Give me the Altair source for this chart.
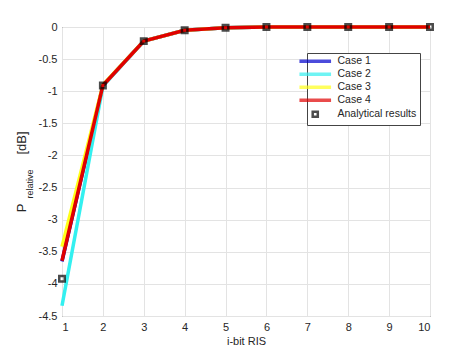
import altair as alt
import pandas as pd

bits = [1, 2, 3, 4, 5, 6, 7, 8, 9, 10]
case1 = [-3.65, -0.91, -0.22, -0.05, -0.01, 0, 0, 0, 0, 0]
case2 = [-4.34, -0.92, -0.22, -0.05, -0.01, 0, 0, 0, 0, 0]
case3 = [-3.42, -0.90, -0.22, -0.05, -0.01, 0, 0, 0, 0, 0]
case4 = [-3.64, -0.91, -0.22, -0.05, -0.01, 0, 0, 0, 0, 0]
analytical = [-3.92, -0.91, -0.22, -0.05, -0.01, 0, 0, 0, 0, 0]
y_ticks = [0, -0.5, -1, -1.5, -2, -2.5, -3, -3.5, -4, -4.5]

series_names = ["Case 1", "Case 2", "Case 3", "Case 4", "Analytical results"]
series_colors = ["#0000cc", "#33f0f0", "#ffff1a", "#e00000", "#000000"]

rows = []
for name, vals in zip(series_names[:4], [case1, case2, case3, case4]):
    for b, v in zip(bits, vals):
        rows.append({"bit": b, "p": v, "series": name})
lines_df = pd.DataFrame(rows)
ana_df = pd.DataFrame({"bit": bits, "p": analytical, "series": "Analytical results"})

is_ana = "datum.value === 'Analytical results'"
color = alt.Color(
    "series:N",
    scale=alt.Scale(domain=series_names, range=series_colors),
    sort=series_names,
    legend=alt.Legend(
        orient="none", legendX=245, legendY=26, title=None,
        symbolType=alt.ExprRef(expr=f"{is_ana} ? 'square' : 'stroke'"),
        symbolStrokeWidth=alt.ExprRef(expr=f"{is_ana} ? 2.5 : 3.5"),
        symbolSize=alt.ExprRef(expr=f"{is_ana} ? 26 : 1000"),
        labelFontSize=10.5, labelFont="Liberation Sans", labelColor="#262626",
        rowPadding=-2, padding=3, strokeColor="#444444", fillColor="white",
        cornerRadius=0, labelOffset=17,
    ),
)

x = alt.X("bit:Q", scale=alt.Scale(domain=[1, 10], nice=False),
          axis=alt.Axis(values=bits, title="i-bit RIS", format="d"))
y = alt.Y("p:Q", scale=alt.Scale(domain=[-4.5, 0], nice=False),
          axis=alt.Axis(values=y_ticks, title=None, labelExpr="'' + datum.value"))

lines = alt.Chart(lines_df).mark_line(strokeWidth=3.5).encode(
    x=x, y=y, color=color, order=alt.Order("bit:Q"))
pts = alt.Chart(ana_df).mark_point(shape="square", filled=False, size=30, strokeWidth=2.5).encode(
    x=x, y=y, color=color)

lab_df = pd.DataFrame({"t": ["P"]})
ylab_p = alt.Chart(lab_df).mark_text(angle=270, fontSize=13, font="Liberation Sans", color="#262626").encode(
    text="t:N", x=alt.value(-40), y=alt.value(181))
lab_df2 = pd.DataFrame({"t": ["relative"]})
ylab_r = alt.Chart(lab_df2).mark_text(angle=270, fontSize=9, font="Liberation Sans", color="#262626").encode(
    text="t:N", x=alt.value(-32), y=alt.value(157))
lab_df3 = pd.DataFrame({"t": ["[dB]"]})
ylab_d = alt.Chart(lab_df3).mark_text(angle=270, fontSize=13, font="Liberation Sans", color="#262626").encode(
    text="t:N", x=alt.value(-40), y=alt.value(116))

chart = alt.layer(lines, pts, ylab_p, ylab_r, ylab_d).properties(
    width=368, height=289,
    autosize=alt.AutoSizeParams(type="none"),
    padding={"left": 54, "top": 19, "right": 36, "bottom": 31},
    background="white",
).configure_view(stroke="#333333", strokeWidth=1).configure_axis(
    grid=True, gridColor="#e3e3e3", gridWidth=1, ticks=False, domain=False,
    labelFont="Liberation Sans", labelFontSize=11, labelColor="#262626",
    titleFont="Liberation Sans", titleFontSize=11, titleColor="#262626",
    titleFontWeight="normal", labelPadding=5,
).configure_axisX(titlePadding=3)

chart.save("out.html", embed_options={"renderer": "svg", "actions": False})
